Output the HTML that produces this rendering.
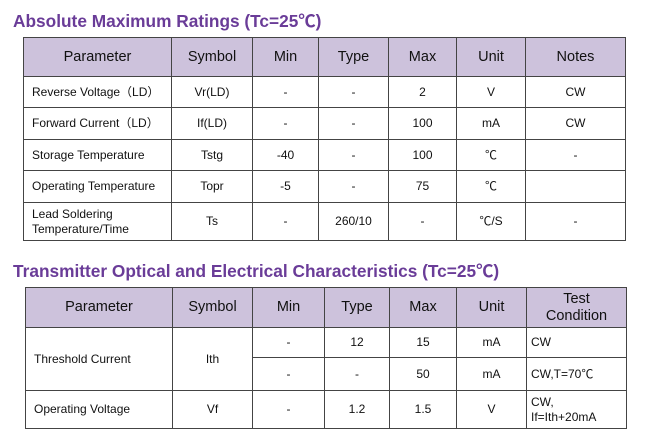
<!DOCTYPE html>
<html><head><meta charset="utf-8"><style>
body{margin:0;width:650px;height:445px;background:#fff;position:relative;font-family:"Liberation Sans","Noto Sans CJK SC",sans-serif;overflow:hidden}
.t{position:absolute;font-weight:bold;color:#6a3c98;font-size:17.3px;white-space:nowrap}
table{position:absolute;border-collapse:collapse;table-layout:fixed;font-size:12px;color:#111}
td{border:1.3px solid #444;text-align:center;padding:0;line-height:15px}
tr.h td{background:#cdc2dc;font-size:14.5px;color:#111;line-height:17px}
td.l{text-align:left;padding-left:8px}
</style></head><body>
<div class="t" style="left:13px;top:7px">Absolute Maximum Ratings (Tc=25℃)</div>
<table style="left:23px;top:37px;width:602px">
<colgroup><col style="width:148px"><col style="width:81px"><col style="width:66px"><col style="width:70px"><col style="width:68px"><col style="width:69px"><col style="width:100px"></colgroup>
<tr class="h" style="height:39px"><td>Parameter</td><td>Symbol</td><td>Min</td><td>Type</td><td>Max</td><td>Unit</td><td>Notes</td></tr>
<tr style="height:31px"><td class="l">Reverse Voltage（LD）</td><td>Vr(LD)</td><td>-</td><td>-</td><td>2</td><td>V</td><td>CW</td></tr>
<tr style="height:32px"><td class="l">Forward Current（LD）</td><td>If(LD)</td><td>-</td><td>-</td><td>100</td><td>mA</td><td>CW</td></tr>
<tr style="height:31px"><td class="l">Storage Temperature</td><td>Tstg</td><td>-40</td><td>-</td><td>100</td><td>℃</td><td>-</td></tr>
<tr style="height:32px"><td class="l">Operating Temperature</td><td>Topr</td><td>-5</td><td>-</td><td>75</td><td>℃</td><td></td></tr>
<tr style="height:38px"><td class="l">Lead Soldering<br>Temperature/Time</td><td>Ts</td><td>-</td><td>260/10</td><td>-</td><td>℃/S</td><td>-</td></tr>
</table>
<div class="t" style="left:13px;top:257px">Transmitter Optical and Electrical Characteristics (Tc=25℃)</div>
<table style="left:25px;top:287px;width:601px">
<colgroup><col style="width:147px"><col style="width:80px"><col style="width:72px"><col style="width:65px"><col style="width:67px"><col style="width:70px"><col style="width:100px"></colgroup>
<tr class="h" style="height:40px"><td>Parameter</td><td>Symbol</td><td>Min</td><td>Type</td><td>Max</td><td>Unit</td><td>Test<br>Condition</td></tr>
<tr style="height:30px"><td class="l" rowspan="2">Threshold Current</td><td rowspan="2">Ith</td><td>-</td><td>12</td><td>15</td><td>mA</td><td class="l" style="padding-left:4px">CW</td></tr>
<tr style="height:33px"><td>-</td><td>-</td><td>50</td><td>mA</td><td class="l" style="padding-left:4px">CW,T=70℃</td></tr>
<tr style="height:38px"><td class="l">Operating Voltage</td><td>Vf</td><td>-</td><td>1.2</td><td>1.5</td><td>V</td><td class="l" style="padding-left:4px">CW,<br>If=Ith+20mA</td></tr>
</table>
</body></html>
